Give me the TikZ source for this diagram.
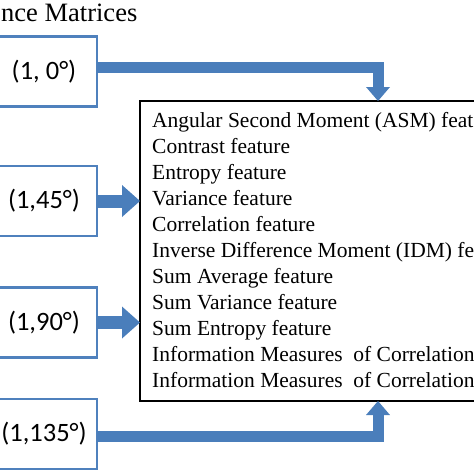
\documentclass[tikz,border=0pt]{standalone}
\usepackage{fontspec}
\setmainfont{Liberation Serif}
\newfontfamily\boxfont{Carlito}
\usepackage{tikz}
\usetikzlibrary{arrows.meta,calc}
\definecolor{glcmblue}{RGB}{79,129,189}
\definecolor{arrowblue}{RGB}{74,126,187}

\begin{document}
\begin{tikzpicture}[
  x=1pt,y=-1pt,
  angbox/.style={draw=glcmblue, line width=2.4pt, fill=white, minimum width=106pt,
    minimum height=70pt, inner sep=0pt, outer sep=0pt,
    font=\boxfont\fontsize{26.5}{30}\selectfont},
  featbox/.style={draw=black, line width=2pt, fill=white, minimum width=350pt,
    minimum height=300pt, inner sep=0pt, outer sep=0pt},
  featline/.style={anchor=base west, inner sep=0pt, font=\fontsize{21.5}{26}\selectfont},
  sidearrow/.style={draw=arrowblue, line width=13pt,
    -{Triangle[width=32pt, length=18pt, line width=0pt]}},
  bentarrow/.style={draw=arrowblue, line width=11pt, line join=miter,
    -{Triangle[width=24pt, length=14pt, line width=0pt]}}
]
\useasboundingbox (0,0) rectangle (474,474);
\clip (0,0) rectangle (474,474);

% Header
\node[font=\fontsize{26.5}{31}\selectfont, anchor=base west, inner sep=0pt] (title)
  at (1,21) {nce Matrices};

% Feature list
\node[featbox] (features) at (315,251) {};
\foreach \txt [count=\i from 0] in {
  Angular Second Moment (ASM) feat,
  Contrast feature,
  Entropy feature,
  Variance feature,
  Correlation feature,
  Inverse Difference Moment (IDM) fe,
  Sum Average feature,
  Sum Variance feature,
  Sum Entropy feature,
  Information Measures\ \ of Correlation,
  Information Measures\ \ of Correlation
} {
  \node[featline] (f\i) at (152,{127+26*\i}) {\txt};
}

% Direction boxes
\node[angbox] (g0)   at (44,71.5)  {(1, 0°)};
\node[angbox] (g45)  at (44,201)   {(1,45°)};
\node[angbox] (g90)  at (44,322.5) {(1,90°)};
\node[angbox] (g135) at (44,434)   {(1,135°)};

% Block arrows into the feature box
\coordinate (topin) at ([xshift=63pt]features.north);
\coordinate (botin) at ([xshift=63pt]features.south);
\draw[bentarrow] ([yshift=4.5pt]g0.east) -| (topin);
\draw[sidearrow] (g45.east) -- (g45.east -| features.west);
\draw[sidearrow] (g90.east) -- (g90.east -| features.west);
\draw[bentarrow] ([yshift=-2pt]g135.east) -| (botin);

\end{tikzpicture}
\end{document}
